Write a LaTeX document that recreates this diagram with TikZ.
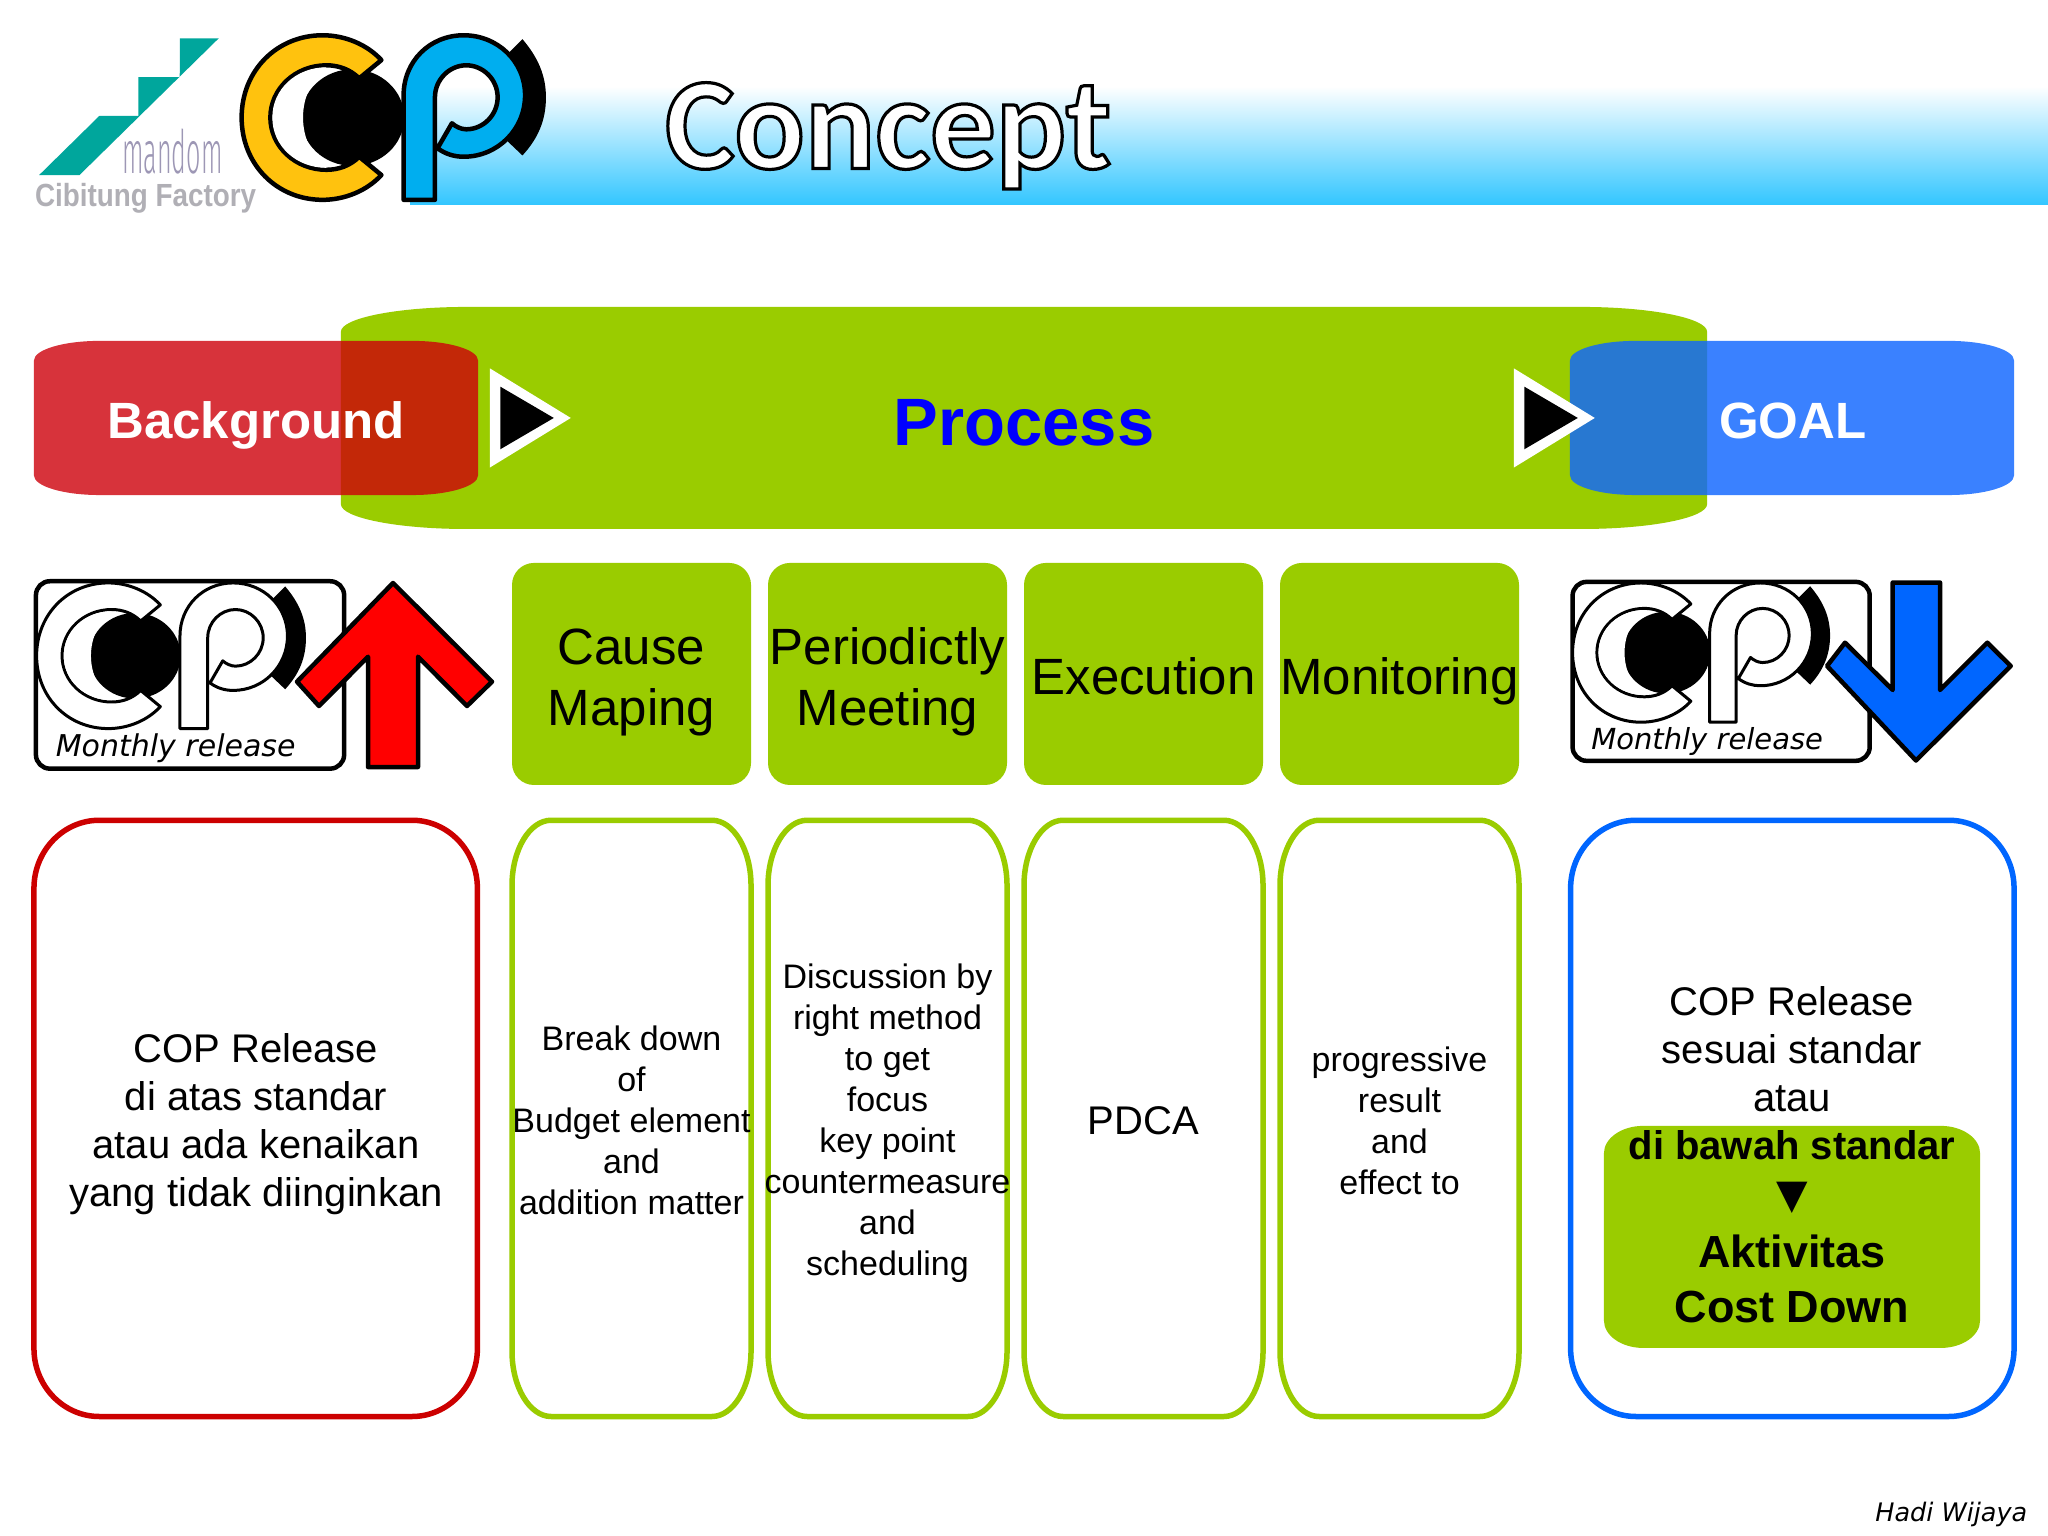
\documentclass[tikz,border=0pt]{standalone}
\usepackage{fontspec}
\setmainfont{Liberation Sans}
\newfontfamily\djv{DejaVu Sans}
\newfontfamily\thinfont[FakeStretch=.42]{Fira Sans Light}
\newfontfamily\factoryfont[FakeStretch=.87]{Liberation Sans Bold}
\newfontfamily\titlefont{Carlito Bold}
\definecolor{lime}{HTML}{9ACC00}
\definecolor{cred}{HTML}{CC0000}
\definecolor{cblue}{HTML}{0066FF}
\definecolor{bgred}{HTML}{CE000B}
\definecolor{goalblue}{HTML}{0F66FF}
\definecolor{sky}{HTML}{33C6FF}
\definecolor{teal}{HTML}{00A69C}
\definecolor{logoyellow}{HTML}{FFC20E}
\definecolor{logoblue}{HTML}{00AEEF}
\definecolor{mandomgray}{HTML}{9D97B5}
\definecolor{factorygray}{HTML}{B0AFB5}
\newcommand\fs[2]{\fontsize{#1pt}{#2pt}\selectfont}
% elliptical-corner rectangle: x1,y1,x2,y2,rx,ry
\newcommand\ellrect[6]{(#1+#5,#2) -- (#3-#5,#2) .. controls (#3-0.45*#5,#2) and (#3,#2+0.45*#6) .. (#3,#2+#6) -- (#3,#4-#6) .. controls (#3,#4-0.45*#6) and (#3-0.45*#5,#4) .. (#3-#5,#4) -- (#1+#5,#4) .. controls (#1+0.45*#5,#4) and (#1,#4-0.45*#6) .. (#1,#4-#6) -- (#1,#2+#6) .. controls (#1,#2+0.45*#6) and (#1+0.45*#5,#2) .. (#1+#5,#2) -- cycle}
% CP logo, in the coordinates of the large logo
\newcommand\cplogo[2]{%
  \fill[black] (400,30) .. controls (412,44) and (418,58) .. (418,74.5) .. controls (418,92) and (412,106) .. (400,119) -- (380,100) -- (380,50) -- cycle;
  \fill[black] (270,90) ellipse[x radius=39.5,y radius=37];
  \draw[logoline,fill=#1,even odd rule] (292,46) .. controls (281,34) and (264,27) .. (247,27) .. controls (212,27) and (185,54) .. (185,90) .. controls (185,126) and (212,153) .. (247,153) .. controls (264,153) and (281,146) .. (292,134) -- (275,120) .. controls (268,127) and (259,130) .. (250,130) .. controls (226,130) and (207,112) .. (207,90) .. controls (207,68) and (226,50) .. (250,50) .. controls (259,50) and (268,53) .. (275,60) -- cycle;
  \fill[white] (250,51.5) .. controls (227,51.5) and (208.5,68) .. (208.5,90) .. controls (208.5,112) and (227,128.5) .. (250,128.5) .. controls (239,120) and (232,106) .. (232,90) .. controls (232,74) and (239,60) .. (250,51.5) -- cycle;
  \draw[logoline,fill=#2] (309,153) -- (309,73) .. controls (309,47) and (329,27) .. (355,27) .. controls (381,27) and (402,47) .. (402,73) .. controls (402,99) and (381,120) .. (355,120) .. controls (348,120) and (341,118) .. (335,113.5) -- (346,94.4) .. controls (349,97) and (353,99) .. (357,99) .. controls (370,99) and (381,88) .. (381,74.5) .. controls (381,61) and (370,50) .. (357,50) .. controls (344,50) and (333,61) .. (333,74.5) -- (333,153) -- cycle;
}
\tikzset{
  logoline/.style={draw=black,line width=4.5pt,line join=round},
  smalllogo/.style={logoline/.style={draw=black,line width=3pt,line join=round}},
  outlinebox/.style={line width=5.5pt},
  blackline/.style={draw=black,line width=4.5pt,line join=round},
  label18/.style={align=center,inner sep=0pt,text=black,font=\fs{40}{48}},
  label15/.style={align=center,inner sep=0pt,text=black,font=\fs{34}{41}},
  stagebox/.style={fill=lime,rounded corners=22pt},
  stagetext/.style={align=center,inner sep=0pt,text=black,font=\fs{51}{61}},
  headword/.style={inner sep=0pt,font=\fs{51}{61}\bfseries,text=white},
  monthly/.style={inner sep=0pt,font=\djv\itshape\fs{#1}{#1},text=black},
}
\begin{document}
\begin{tikzpicture}[x=1.30612pt,y=-1.30612pt]
\useasboundingbox (0,0) rectangle (1568,1176);
\fill[white] (0,0) rectangle (1568,1176);
% header band
\fill[top color=white,bottom color=sky] (314,66) rectangle (1568,156.5);
% mandom mark
\fill[teal] (137.8,29.3) -- (167.5,29.3) -- (60.9,134) -- (30,134) -- (76,88.8) -- (106,88.8) -- (106,59) -- (137.6,59) -- cycle;
\node[inner sep=0pt,anchor=base,text=mandomgray] (mandom) at (132,133) {\thinfont\fs{60}{60}mandom};
\node[inner sep=0pt,anchor=base,text=factorygray] (factory) at (111.5,158) {\factoryfont\fs{32}{32}Cibitung Factory};
\cplogo{logoyellow}{logoblue}
% title
\node[inner sep=0pt,anchor=base,text=white] (title) at (680,129) {\titlefont\fs{131}{131}\special{pdf:code 0 G 2 Tr 3.2 w}Concept\special{pdf:code 0 Tr}};
% process band
\fill[lime] \ellrect{261}{235}{1307}{405}{96}{19};
\fill[bgred,opacity=.8] \ellrect{26}{261}{366}{379}{50}{15};
\fill[goalblue,opacity=.82] \ellrect{1202}{261}{1542}{379}{50}{15};
\fill[white] (375,282) -- (437,320) -- (375,358) -- cycle;
\fill[black] (383,296) -- (424,320) -- (383,344) -- cycle;
\fill[white] (1159,282) -- (1221,320) -- (1159,358) -- cycle;
\fill[black] (1167,296) -- (1208,320) -- (1167,344) -- cycle;
\node[headword] (background) at (196,326) {Background};
\node[inner sep=0pt,font=\fs{67}{67}\bfseries,text=blue] (process) at (784,324) {Process};
\node[headword] (goal) at (1372.5,322) {GOAL};
% monthly release logos
\draw[blackline,fill=white,rounded corners=14pt] (27.5,445) rectangle (263.5,588.5);
\begin{scope}[shift={(-135.7,422.4)},x=1.156pt,y=-1.156pt,smalllogo]
\cplogo{white}{white}
\end{scope}
\node[monthly=30,anchor=base] (mrl) at (134.5,579) {Monthly release};
\begin{scope}[x=1pt,y=-1pt]
\draw[blackline,fill=red] (393,583) -- (492,681.7) -- (467,706) -- (418,656.7) -- (418,767) -- (368,767) -- (368,656.7) -- (319,706) -- (297,681.7) -- cycle;
\end{scope}
\draw[blackline,fill=white,rounded corners=14pt] (1204,445.5) rectangle (1431.5,582.5);
\begin{scope}[shift={(1047.5,423.5)},x=1.105pt,y=-1.105pt,smalllogo]
\cplogo{white}{white}
\end{scope}
\node[monthly=29,anchor=base] (mrr) at (1307,573.5) {Monthly release};
\begin{scope}[x=1pt,y=-1pt]
\draw[blackline,fill=cblue] (1892.7,582.5) -- (1940,582.5) -- (1940,690) -- (1987.3,642.7) -- (2010.7,666) -- (1916,760.5) -- (1827,666) -- (1845,642.7) -- (1892.7,690) -- cycle;
\end{scope}
% stage boxes
\fill[stagebox] (392,431) rectangle (575,601);
\fill[stagebox] (588,431) rectangle (771,601);
\fill[stagebox] (784,431) rectangle (967,601);
\fill[stagebox] (980,431) rectangle (1163,601);
\node[stagetext] (cause) at (483.5,522.5) {Cause\\Maping};
\node[stagetext] (meeting) at (679.5,522) {Periodictly\\Meeting};
\node[stagetext] (exec) at (875.5,518) {Execution};
\node[stagetext] (monitor) at (1071.5,522) {Monitoring};
% tall boxes
\draw[outlinebox,draw=cred] \ellrect{26}{628}{365.5}{1084.5}{50}{52};
\draw[outlinebox,draw=lime] \ellrect{392}{628}{575}{1084.5}{30}{50};
\draw[outlinebox,draw=lime] \ellrect{588}{628}{771}{1084.5}{30}{50};
\draw[outlinebox,draw=lime] \ellrect{784}{628}{967}{1084.5}{30}{50};
\draw[outlinebox,draw=lime] \ellrect{980}{628}{1163}{1084.5}{30}{50};
\draw[outlinebox,draw=cblue] \ellrect{1202.5}{628}{1542}{1084.5}{50}{52};
\node[label18] (bgtext) at (196,860.5) {COP Release\\di atas standar\\atau ada kenaikan\\yang tidak diinginkan};
\node[label15] (brk) at (483.5,858) {Break down\\of\\Budget element\\and\\addition matter};
\node[label15] (disc) at (679.5,860) {Discussion by\\right method\\to get\\focus\\key point\\countermeasure\\and\\scheduling};
\node[label18] (pdca) at (875.5,858) {PDCA};
\node[label15] (prog) at (1071.5,858) {progressive\\result\\and\\effect to};
\node[label18] (goaltext) at (1372,803) {COP Release\\sesuai standar\\atau};
\fill[lime] \ellrect{1228}{862}{1516}{1032}{30}{21};
\node[inner sep=0pt,font=\fs{40}{40}\bfseries] (below) at (1372,877) {di bawah standar};
\node[inner sep=0pt,font=\djv\fs{41}{41}] (tri) at (1372,917) {▼};
\node[inner sep=0pt,align=center,font=\fs{45}{55}\bfseries] (cost) at (1372,979) {Aktivitas\\Cost Down};
\node[inner sep=0pt,anchor=base,font=\djv\itshape\fs{25.5}{26}] (author) at (1494,1165) {Hadi Wijaya};
\end{tikzpicture}
\end{document}
